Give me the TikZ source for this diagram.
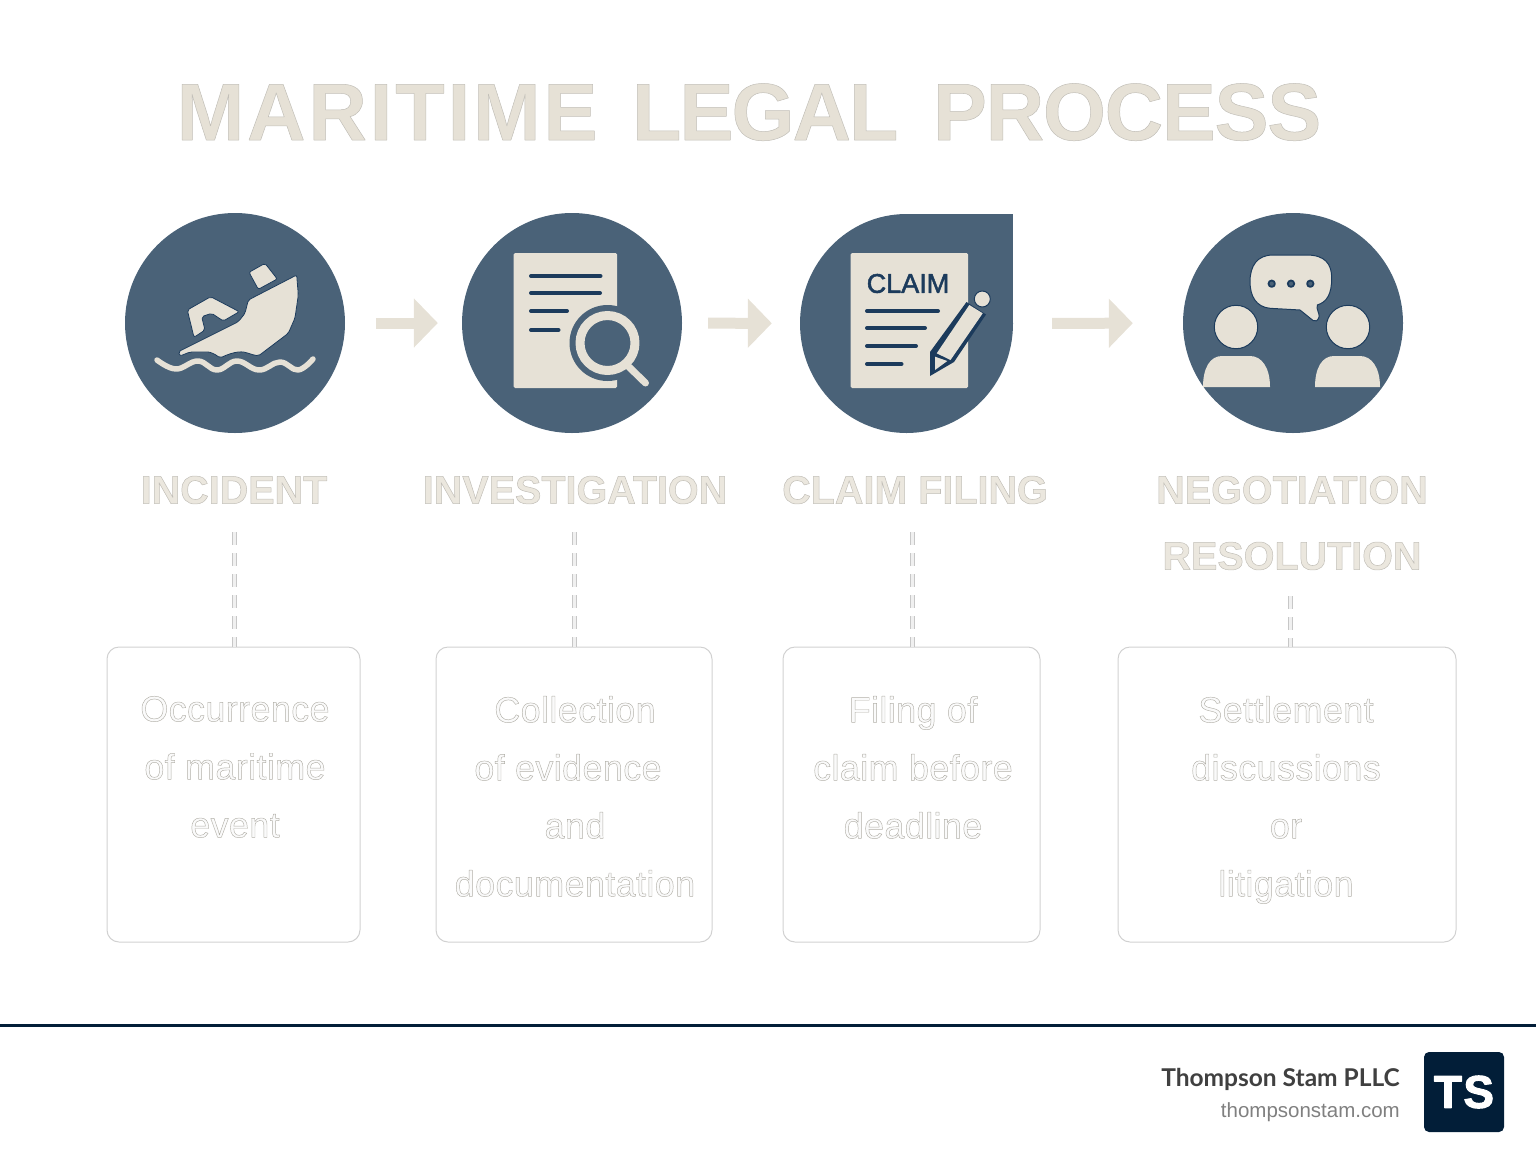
\documentclass[tikz,border=0pt]{standalone}
\usepackage{fontspec}
\setmainfont{Liberation Sans}
\newfontfamily\firmfont{Lato}
\usetikzlibrary{arrows.meta,shapes.geometric}
\definecolor{slateblue}{HTML}{4A6278}
\definecolor{sand}{HTML}{E6E1D6}
\definecolor{navy}{HTML}{1C3B5C}
\definecolor{footnavy}{HTML}{021E38}
\newcommand{\sandoutline}{\special{pdf:code 2 Tr .5 w .76 .75 .72 RG}}
\newcommand{\paleoutline}{\special{pdf:code 2 Tr .45 w .70 .69 .66 RG}}
\newcommand{\whiteoutline}{\special{pdf:code 2 Tr 1 w 1 1 1 RG}}
\tikzset{
	iconbg/.style = {circle, fill=slateblue, minimum size=220pt, inner sep=0pt},
	flowarrow/.style = {draw=sand, line width=11pt, -{Triangle[length=24pt,width=48pt]}},
	stagelbl/.style = {text=sand!80!white, font=\bfseries\fontsize{39.5}{39.5}\selectfont, inner sep=0pt},
	detailbox/.style = {draw=black!18, line width=1pt, rounded corners=12pt, inner sep=0pt},
	detailtxt/.style = {text=black!2, font=\fontsize{36}{58}\selectfont\addfontfeature{LetterSpace=1}, align=center, anchor=north, inner sep=0pt},
	dashline/.style = {draw=black!22, line width=1pt, double=black!6, double distance=3pt, dash pattern=on 12.5pt off 8.5pt},
	docline/.style = {draw=navy, line width=4pt, line cap=round},
	sandshape/.style = {fill=sand, draw=navy, line width=.8pt, rounded corners=2pt}
}
\begin{document}
\begin{tikzpicture}[x=1pt,y=-1pt, line join=round]
	\useasboundingbox (0,0) rectangle (1536,1154);
	\node[anchor=base, text=sand, inner sep=0pt, font=\bfseries\fontsize{81}{81}\selectfont] (title) at (749,140) {\sandoutline{\addfontfeature{LetterSpace=3.6}MARITIME}\hspace{12pt} {\addfontfeature{LetterSpace=-2.5}LEGAL}\hspace{12pt} {\addfontfeature{LetterSpace=-1.6}PROCESS}};

	\node[iconbg] (incident) at (235,323) {};
	\node[iconbg] (investigation) at (572,323) {};
	\node[ellipse, fill=slateblue, minimum width=213pt, minimum height=219pt, inner sep=0pt] (claim) at (906.5,323.5) {};
	\fill[slateblue] (906.5,214) -- (1013,214) -- (1013,323.5) -- (906.5,323.5) -- cycle;
	\node[iconbg] (negotiation) at (1293,323) {};

	\draw[flowarrow, shorten <=31pt, shorten >=24pt] (incident) -- (investigation);
	\draw[flowarrow, shorten <=26pt, shorten >=28pt] (investigation) -- (claim);
	\draw[flowarrow, shorten <=39pt, shorten >=50pt] (claim) -- (negotiation);

	\draw[sandshape] (296.7,275) -- (298.3,295) -- (295,318) -- (288.3,333.3) -- (258.3,356) -- (250,354) .. controls (243,351) and (235,351) .. (220,358) .. controls (215,354) and (210,352) .. (206,352) -- (190,352) -- (180,356) -- (178.3,351.7) -- (238.3,321.7) -- (245,313.3) -- (248.3,300) -- cycle;
	\draw[sandshape] (265,263.3) -- (277.3,279) -- (258.3,289.3) -- (249,272.3) -- cycle;
	\draw[sandshape] (187.3,310) -- (210.7,296.7) -- (239.3,311.7) -- (223.3,321) -- (211.7,313.3) -- (201.7,316.7) -- (205,330) -- (194,337.3) -- cycle;
	\draw[sand, line width=5.5pt, line cap=round] plot[smooth, tension=.7] coordinates {(157,360) (176,369) (198,361) (217,370) (237,361) (259,370) (280,362) (298,370) (313,359)};

	\fill[sand, rounded corners=1.5pt] (513.5,253) rectangle (617,388);
	\foreach \yy/\xx in {276/600.5, 293/600, 311/567, 330/558.5}
		\draw[docline] (531,\yy) -- (\xx,\yy);
	\fill[slateblue] (607.5,343) circle (38pt);
	\draw[sand, line width=7pt, line cap=round] (628,366) -- (645.5,383);
	\draw[sand, line width=9pt] (607.5,343) circle (27.5pt);

	\fill[sand, rounded corners=1.5pt] (850.5,253) rectangle (968,388);
	\node[text=navy, inner sep=0pt, font=\fontsize{27}{27}\selectfont] (claimword) at (908,283.5) {\special{pdf:code 2 Tr .5 w}CLAIM};
	\foreach \yy/\xx in {311/938, 328/925, 346/916, 364/901.5}
		\draw[docline] (867,\yy) -- (\xx,\yy);
	\fill[navy] (966.5,302) -- (986,314.5) -- (954,362) -- (930,376) -- (930,352) -- cycle;
	\fill[sand, draw=navy, line width=1pt] (982.3,299) circle (8pt);
	\fill[sand] (969.3,305) -- (982.7,313.3) -- (950.5,360) -- (936.7,353.3) -- cycle;
	\fill[sand] (935,356.7) -- (947.3,361) -- (935,370) -- cycle;

	\draw[sand, draw=navy, fill=sand, line width=1pt] (1273,255) -- (1306.7,255) .. controls (1325,255) and (1331.7,264) .. (1331.7,278) .. controls (1331.7,294) and (1327,302) .. (1317.3,305) .. controls (1316,310) and (1320,313) .. (1319,317) .. controls (1318,321) and (1315,322) .. (1313,320.5) -- (1300,310) -- (1270,308.3) .. controls (1256,307) and (1250,296) .. (1250,281.7) .. controls (1250,266) and (1257,255) .. (1273,255) -- cycle;
	\foreach \xx in {1271.7,1291,1310.3}
		\fill[slateblue, draw=navy, line width=1.8pt] (\xx,283.7) circle (3.2pt);
	\foreach \xx in {1236,1348}
		\fill[sand, draw=navy, line width=1pt] (\xx,327) ellipse (21.7pt and 21.7pt);
	\fill[sand] (1203,387) .. controls (1203,368) and (1210,356) .. (1222,356) -- (1250,356) .. controls (1262,356) and (1270,368) .. (1270,387) -- cycle;
	\fill[sand] (1315,387) .. controls (1315,368) and (1322,356) .. (1334,356) -- (1360,356) .. controls (1372,356) and (1380,368) .. (1380,387) -- cycle;

	\node[stagelbl] (incidentlbl) at (234,490) {\sandoutline INCIDENT};
	\node[stagelbl] (investigationlbl) at (575,490) {\sandoutline INVESTIGATION};
	\node[stagelbl] (claimlbl) at (915,490) {\sandoutline CLAIM FILING};
	\node[stagelbl] (negotiationlbl) at (1292,490) {\sandoutline NEGOTIATION};
	\node[stagelbl] (resolutionlbl) at (1292,556) {\sandoutline RESOLUTION};

	\node[detailbox, minimum width=253pt, minimum height=295pt] (incidentbox) at (233.5,794.5) {};
	\node[detailbox, minimum width=276pt, minimum height=295pt] (investigationbox) at (574,794.5) {};
	\node[detailbox, minimum width=257pt, minimum height=295pt] (claimbox) at (911.5,794.5) {};
	\node[detailbox, minimum width=338pt, minimum height=295pt] (negotiationbox) at (1287,794.5) {};

	\node[detailtxt] (incidenttxt) at (235,696) {\paleoutline Occurrence\\of maritime\\event};
	\node[detailtxt] (investigationtxt) at (575,696) {\paleoutline Collection\\of evidence\hbox{\kern14pt}\\and\\documentation};
	\node[detailtxt] (claimtxt) at (913,696) {\paleoutline Filing of\\claim before\\deadline};
	\node[detailtxt] (negotiationtxt) at (1286,696) {\paleoutline Settlement\\discussions\\or\\litigation};

	\coordinate (incidenttop) at (234,532);
	\coordinate (investigationtop) at (574,532);
	\coordinate (claimtop) at (912,532);
	\coordinate (negotiationtop) at (1290,596);
	\draw[dashline] (incidenttop) -- (incidenttop |- incidentbox.north);
	\draw[dashline] (investigationtop) -- (investigationtop |- investigationbox.north);
	\draw[dashline] (claimtop) -- (claimtop |- claimbox.north);
	\draw[dashline] (negotiationtop) -- (negotiationtop |- negotiationbox.north);

	\coordinate (ruleleft) at (0,1025.5);
	\coordinate (ruleright) at (1536,1025.5);
	\draw[footnavy, line width=3pt] (ruleleft) -- (ruleright);
	\node[fill=footnavy, rounded corners=5pt, minimum size=80pt, inner sep=0pt, text=white, font=\bfseries\fontsize{46}{46}\selectfont] (logo) at (1464,1092) {\addfontfeature{LetterSpace=3}\whiteoutline TS};
	\node[anchor=base east, inner sep=0pt, text=black!75, font=\firmfont\bfseries\fontsize{24.5}{24.5}\selectfont] (firm) at (1400,1086.5) {Thompson Stam PLLC};
	\node[anchor=base east, inner sep=0pt, text=black!50, font=\fontsize{20.5}{20.5}\selectfont] (site) at (1400,1117.5) {thompsonstam.com};
\end{tikzpicture}
\end{document}
